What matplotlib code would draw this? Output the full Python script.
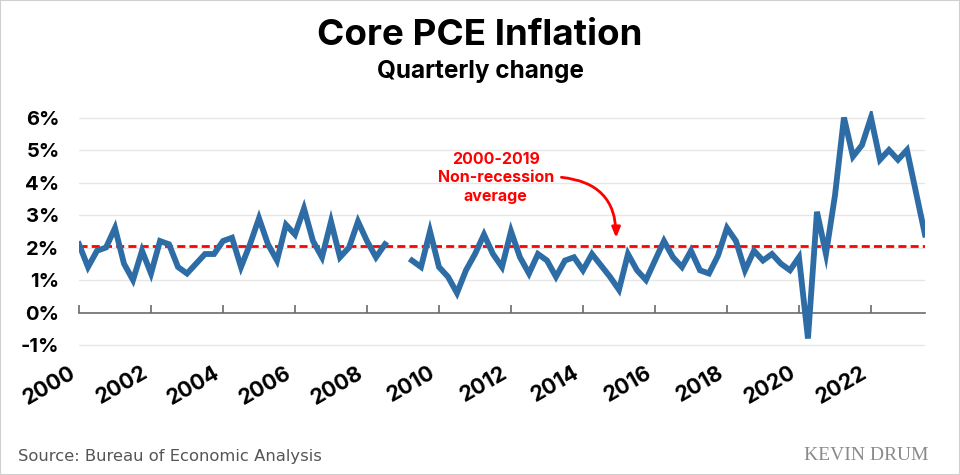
#!/usr/bin/env python3

import matplotlib

matplotlib.use("Agg")
import matplotlib.pyplot as plt
import numpy as np
from matplotlib.patches import Rectangle

# quarterly core PCE change (annualized, %), 2000Q1 .. 2023Q3
# 2008Q4 and 2009Q1 are left out (recession)
pce_2000_2004 = [2.1, 1.4, 1.9, 2.0, 2.6, 1.5, 1.0, 1.9, 1.2, 2.2,
                 2.1, 1.4, 1.2, 1.5, 1.8, 1.8, 2.2, 2.3, 1.4, 2.1]
pce_2005_2009 = [2.9, 2.1, 1.6, 2.7, 2.4, 3.2, 2.2, 1.7, 2.8, 1.7,
                 2.0, 2.8, 2.2, 1.7, 2.1, np.nan, np.nan, 1.6, 1.4, 2.5]
pce_2010_2014 = [1.4, 1.1, 0.6, 1.3, 1.8, 2.4, 1.8, 1.4, 2.5, 1.7,
                 1.2, 1.8, 1.6, 1.1, 1.6, 1.7, 1.3, 1.8, 1.45, 1.1]
pce_2015_2019 = [0.7, 1.8, 1.3, 1.0, 1.6, 2.2, 1.7, 1.4, 1.9, 1.3,
                 1.2, 1.75, 2.6, 2.2, 1.3, 1.9, 1.6, 1.8, 1.5, 1.3]
pce_2020_2023 = [1.7, -0.8, 3.1, 1.8, 3.6, 6.0, 4.8, 5.15, 6.0, 4.7,
                 5.0, 4.7, 5.0, 3.7, 2.4]

avg_2000_2019 = 2.05
start_year = 2000
year_ticks = list(range(2000, 2023, 2))
pct_ticks = [-1, 0, 1, 2, 3, 4, 5, 6]

LINE_BLUE = "#2e6ca6"
RED = "#ff0000"
FONT = "Inter"


def main() -> None:
    values = np.array(pce_2000_2004 + pce_2005_2009 + pce_2010_2014
                      + pce_2015_2019 + pce_2020_2023, dtype=float)
    years = start_year + np.arange(len(values)) / 4.0

    fig = plt.figure(figsize=(9.6, 4.75), dpi=100)
    fig.patch.set_facecolor("white")
    fig.patches.append(Rectangle((0, 0), 1, 1, transform=fig.transFigure, fill=False,
                                 edgecolor="#cfcfcf", linewidth=1.5))

    ax = fig.add_axes([0.0823, 0.2668, 0.8812, 0.4995])

    for y in pct_ticks:
        if y != 0:
            ax.axhline(y, color="#e6e6e6", linewidth=1.0, zorder=0)

    ax.axhline(avg_2000_2019, color=RED, linewidth=2.0, dashes=(2.9, 1.5), zorder=2)
    ax.plot(years, values, color=LINE_BLUE, linewidth=4.2, solid_joinstyle="miter",
            zorder=3)

    ax.set_xlim(years[0], years[-1])
    ax.set_ylim(-1.1, 6.2)

    for side in ("left", "right", "top"):
        ax.spines[side].set_visible(False)
    ax.spines["bottom"].set_position(("data", 0))
    ax.spines["bottom"].set_color("#6b6b6b")
    ax.spines["bottom"].set_linewidth(1.2)

    ax.set_yticks(pct_ticks)
    ax.set_yticklabels([f"{t}%" for t in pct_ticks], fontfamily=FONT,
                       fontweight="bold", fontsize=14.5)
    ax.tick_params(axis="y", length=0, pad=14)

    ax.set_xticks(year_ticks)
    ax.set_xticklabels([str(y) for y in year_ticks], rotation=30, ha="right",
                       rotation_mode="default", fontfamily=FONT, fontweight="bold",
                       fontsize=15.5)
    ax.tick_params(axis="x", direction="in", length=6, width=1.2, color="#6b6b6b",
                   pad=36)

    ax.text(2011.58, 4.14, "2000-2019\nNon-recession\naverage", color=RED,
            fontfamily=FONT, fontweight="bold", fontsize=11.5, ha="center",
            va="center", linespacing=1.3)
    ax.annotate("", xy=(2014.92, 2.3), xytext=(2013.4, 4.16),
                arrowprops=dict(arrowstyle="-|>,head_length=0.6,head_width=0.25",
                                color=RED, lw=2.0,
                                connectionstyle="arc3,rad=-0.45",
                                shrinkA=0, shrinkB=0))

    fig.text(0.5, 0.925, "Core PCE Inflation", ha="center", va="center",
             fontfamily=FONT, fontweight="bold", fontsize=26.5)
    fig.text(0.5, 0.85, "Quarterly change", ha="center", va="center",
             fontfamily=FONT, fontweight="bold", fontsize=17.5)

    fig.text(0.019, 0.038, "Source: Bureau of Economic Analysis", ha="left",
             va="center", fontfamily="DejaVu Sans", fontsize=11.8, color="#555555")
    fig.text(0.967, 0.042, "KEVIN DRUM", ha="right", va="center",
             fontfamily="Liberation Serif", fontsize=14, color="#8a8a8a")

    fig.savefig("out.png", dpi=100, facecolor="white")
    plt.close(fig)


if __name__ == "__main__":
    main()
